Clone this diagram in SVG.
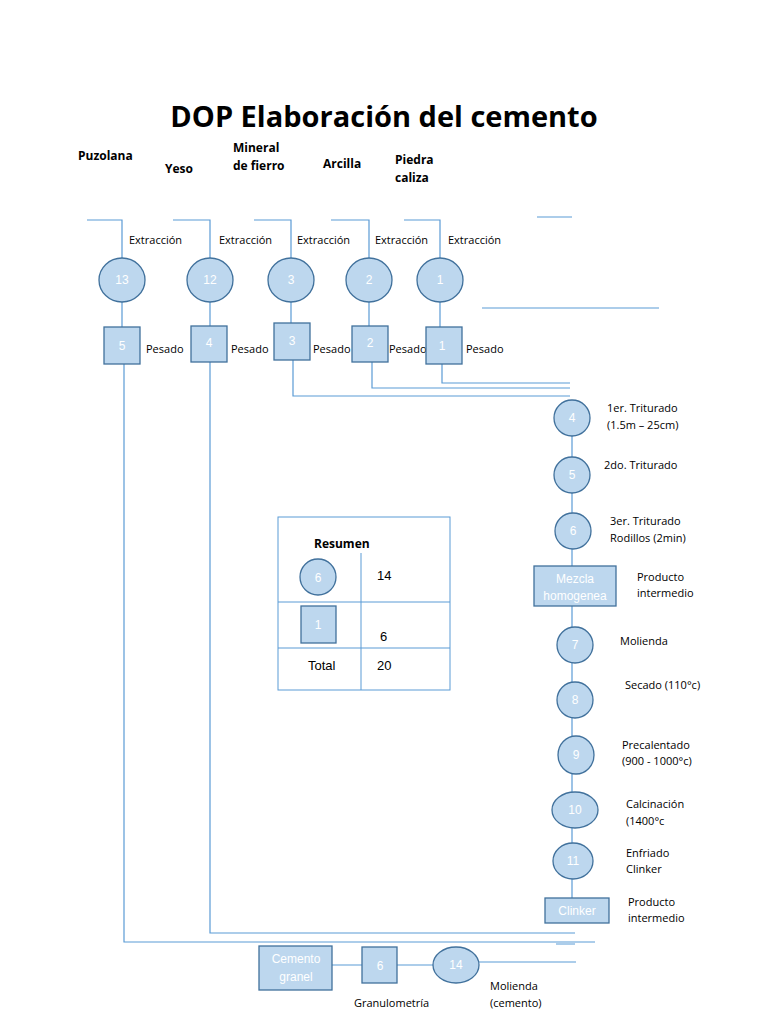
<svg xmlns="http://www.w3.org/2000/svg" width="768" height="1024" viewBox="0 0 768 1024">
<style>
.s{fill:#bdd7ee;stroke:#41719c;stroke-width:1.3}
.l{fill:none;stroke:#5b9bd5;stroke-width:1.2}
.w{fill:#fff;font-family:"Liberation Sans",sans-serif;font-size:12px;text-anchor:middle}
.t{fill:#000;font-family:"Open Sans","Liberation Sans",sans-serif;font-size:11px}
.h{fill:#000;font-family:"Open Sans","Liberation Sans",sans-serif;font-size:12px;font-weight:bold}
</style>
<rect width="768" height="1024" fill="#fff"/>
<text x="384" y="127" text-anchor="middle" font-family="Open Sans,Liberation Sans,sans-serif" font-size="29" font-weight="bold">DOP Elaboración del cemento</text>
<text class="h" x="78" y="160">Puzolana</text>
<text class="h" x="165" y="173">Yeso</text>
<text class="h" x="233" y="152">Mineral</text><text class="h" x="233" y="170">de fierro</text>
<text class="h" x="323" y="168">Arcilla</text>
<text class="h" x="395" y="164">Piedra</text><text class="h" x="395" y="182">caliza</text>
<g id="connectors" class="l">
<path d="M87 220H122V258M122 302V327"/>
<path d="M173 220H210V258M210 302V326"/>
<path d="M254 220H291V258M291 302V323"/>
<path d="M331 220H369V258M369 302V326"/>
<path d="M404 220H440V258M440 302V327"/>
<path d="M537 217H572M482 308H659"/>
<path d="M442 364V383H570M372 362V388H570M293 360V396H570"/>
<path d="M124 364V942H595M210 362V933H575M556 944H575"/>
<path d="M572 400V898"/>
<path d="M332 965H362M397 965H433M479 962H576"/>
</g>
<g class="t">
<text x="129" y="244">Extracción</text><text x="219" y="244">Extracción</text><text x="297" y="244">Extracción</text><text x="375" y="244">Extracción</text><text x="448" y="244">Extracción</text>
<text x="146" y="353">Pesado</text><text x="231" y="353">Pesado</text><text x="313" y="353">Pesado</text><text x="389" y="353">Pesado</text><text x="466" y="353">Pesado</text>
<text x="607" y="412">1er. Triturado</text><text x="607" y="429">(1.5m – 25cm)</text>
<text x="604" y="469">2do. Triturado</text>
<text x="610" y="525">3er. Triturado</text><text x="610" y="542">Rodillos (2min)</text>
<text x="637" y="581">Producto</text><text x="637" y="597">intermedio</text>
<text x="620" y="645">Molienda</text>
<text x="625" y="689">Secado (110°c)</text>
<text x="622" y="749">Precalentado</text><text x="622" y="765">(900 - 1000°c)</text>
<text x="626" y="808">Calcinación</text><text x="626" y="825">(1400°c</text>
<text x="626" y="857">Enfriado</text><text x="626" y="873">Clinker</text>
<text x="628" y="906">Producto</text><text x="628" y="922">intermedio</text>
<text x="354" y="1007">Granulometría</text>
<text x="490" y="990">Molienda</text><text x="490" y="1007">(cemento)</text>
</g>
<g id="n13"><ellipse class="s" cx="122" cy="280" rx="23" ry="22"/><text class="w" x="122" y="284" font-size="10">13</text></g>
<g id="n12"><ellipse class="s" cx="210" cy="280" rx="23" ry="22"/><text class="w" x="210" y="284">12</text></g>
<g id="n3"><ellipse class="s" cx="291" cy="280" rx="23" ry="22"/><text class="w" x="291" y="284">3</text></g>
<g id="n2"><ellipse class="s" cx="369" cy="280" rx="23" ry="22"/><text class="w" x="369" y="284">2</text></g>
<g id="n1"><ellipse class="s" cx="440" cy="280" rx="23" ry="22"/><text class="w" x="440" y="284">1</text></g>
<g id="i5"><rect class="s" x="104" y="327" width="36" height="37"/><text class="w" x="122" y="350">5</text></g>
<g id="i4"><rect class="s" x="191" y="326" width="36" height="36"/><text class="w" x="209" y="347">4</text></g>
<g id="i3"><rect class="s" x="274" y="323" width="36" height="37"/><text class="w" x="292" y="345">3</text></g>
<g id="i2"><rect class="s" x="352" y="326" width="36" height="36"/><text class="w" x="370" y="347">2</text></g>
<g id="i1"><rect class="s" x="426" y="327" width="36" height="37"/><text class="w" x="442" y="350">1</text></g>
<g id="o4"><ellipse class="s" cx="572" cy="418" rx="18" ry="18"/><text class="w" x="572" y="422">4</text></g>
<g id="o5"><ellipse class="s" cx="572" cy="475" rx="18" ry="18"/><text class="w" x="572" y="479">5</text></g>
<g id="o6"><ellipse class="s" cx="573" cy="531" rx="18" ry="18"/><text class="w" x="573" y="535">6</text></g>
<g id="mezcla"><rect class="s" x="534" y="566" width="82" height="40"/><text class="w" x="575" y="583" font-size="11">Mezcla</text><text class="w" x="575" y="600" font-size="11">homogenea</text></g>
<g id="o7"><ellipse class="s" cx="575" cy="645" rx="18" ry="18"/><text class="w" x="575" y="649">7</text></g>
<g id="o8"><ellipse class="s" cx="575" cy="700" rx="18" ry="18"/><text class="w" x="575" y="704">8</text></g>
<g id="o9"><ellipse class="s" cx="576" cy="755" rx="18" ry="19"/><text class="w" x="576" y="759">9</text></g>
<g id="o10"><ellipse class="s" cx="575" cy="810" rx="23" ry="18"/><text class="w" x="575" y="814">10</text></g>
<g id="o11"><ellipse class="s" cx="573" cy="861" rx="20" ry="18"/><text class="w" x="573" y="865">11</text></g>
<g id="clinker"><rect class="s" x="545" y="898" width="64" height="25"/><text class="w" x="577" y="915" font-size="11">Clinker</text></g>
<g id="cemento"><rect class="s" x="259" y="946" width="73" height="44"/><text class="w" x="296" y="963" font-size="11">Cemento</text><text class="w" x="296" y="981" font-size="11">granel</text></g>
<g id="i6"><rect class="s" x="362" y="947" width="35" height="36"/><text class="w" x="380" y="970">6</text></g>
<g id="o14"><ellipse class="s" cx="456" cy="965" rx="23" ry="18"/><text class="w" x="456" y="969" font-size="11">14</text></g>
<g id="resumen">
<rect x="278" y="517" width="172" height="173" fill="none" stroke="#5b9bd5"/>
<path d="M361 553V690M278 602H450M278 648H450" stroke="#5b9bd5" fill="none"/>
<text class="h" x="314" y="548">Resumen</text>
<ellipse class="s" cx="318" cy="577" rx="18" ry="18"/><text class="w" x="318" y="582">6</text>
<rect class="s" x="301" y="606" width="35" height="37"/><text class="w" x="318" y="629">1</text>
<text x="377" y="580" font-family="Liberation Sans,sans-serif" font-size="13">14</text>
<text x="380" y="641" font-family="Liberation Sans,sans-serif" font-size="13">6</text>
<text x="308" y="670" font-family="Liberation Sans,sans-serif" font-size="13">Total</text>
<text x="377" y="670" font-family="Liberation Sans,sans-serif" font-size="13">20</text>
</g>
</svg>
